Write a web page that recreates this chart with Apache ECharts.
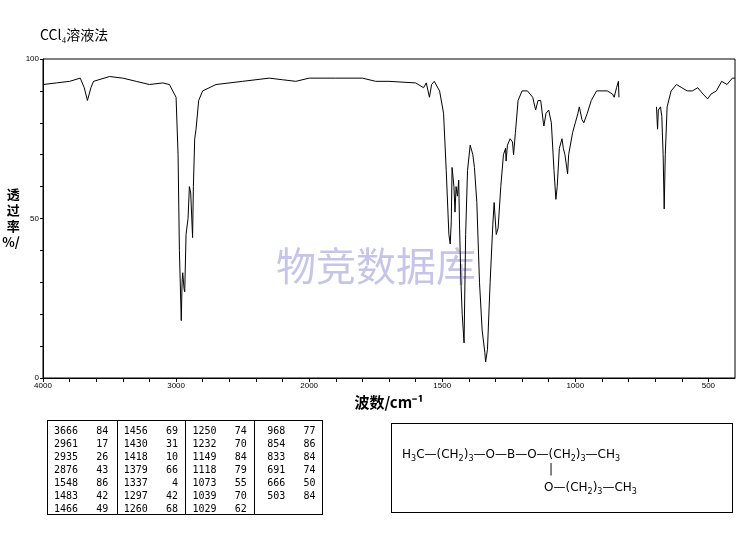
<!DOCTYPE html>
<html><head><meta charset="utf-8">
<script src="https://cdn.jsdelivr.net/npm/echarts@6/dist/echarts.min.js"></script>
<style>
body{margin:0;background:#fff;font-family:"DejaVu Sans Mono",monospace;}
#c{position:absolute;left:0;top:0;width:748px;height:539px;}
.t{position:absolute;font-size:11px;color:#000;}
#tbl{position:absolute;left:47px;top:420px;width:276px;height:95px;border:1px solid #000;box-sizing:border-box;display:flex;}
#tbl div.col{border-right:1px solid #000;padding:3px 0 0 0;font-size:10px;line-height:13px;white-space:pre;font-family:"DejaVu Sans Mono",monospace;}
#tbl div.col:last-child{border-right:none}
#mol{position:absolute;left:391px;top:423px;width:342px;height:90px;border:1px solid #000;box-sizing:border-box;font-size:12px;font-family:"DejaVu Sans",sans-serif;}
</style></head><body>
<div id="c"></div>
<div class="t" style="left:40px;top:24px;font-size:14px;font-family:'Noto Sans CJK SC';">CCl₄溶液法</div>
<div id="tbl"></div>
<div id="mol">
 <div class="t" style="left:10px;top:23px;font-size:12px">H<sub style="font-size:8px">3</sub>C—(CH<sub style="font-size:8px">2</sub>)<sub style="font-size:8px">3</sub>—O—B—O—(CH<sub style="font-size:8px">2</sub>)<sub style="font-size:8px">3</sub>—CH<sub style="font-size:8px">3</sub></div>
 <div class="t" style="left:157px;top:38px;font-size:12px">|</div>
 <div class="t" style="left:152px;top:56px;font-size:12px">O—(CH<sub style="font-size:8px">2</sub>)<sub style="font-size:8px">3</sub>—CH<sub style="font-size:8px">3</sub></div>
</div>
<script>
const peakWn=[3666,2961,2935,2876,1548,1483,1466,1456,1430,1418,1379,1337,1297,1260,1250,1232,1149,1118,1073,1039,1029,968,854,833,691,666,503];
const peakT=[84,17,26,43,86,42,49,69,31,10,66,4,42,68,74,70,84,79,55,70,62,77,86,84,74,50,84];
const wn=[4000,3900,3800,3720,3690,3666,3640,3620,3500,3400,3300,3200,3100,3050,3000,2985,2975,2961,2955,2950,2940,2935,2925,2910,2900,2890,2876,2870,2860,2850,2830,2800,2700,2500,2300,2200,2100,2000,1900,1800,1750,1700,1600,1570,1560,1548,1540,1530,1510,1495,1485,1475,1470,1466,1463,1456,1452,1448,1443,1438,1435,1430,1425,1418,1412,1405,1395,1385,1379,1370,1360,1350,1340,1337,1330,1320,1310,1305,1297,1290,1280,1270,1262,1260,1255,1245,1236,1232,1225,1215,1200,1180,1160,1149,1140,1130,1120,1118,1110,1100,1090,1080,1073,1068,1060,1050,1045,1039,1029,1025,1010,1000,990,985,975,968,955,940,920,880,860,854,845,838,836,820,700,695,691,688,680,675,670,666,662,655,640,620,600,580,560,540,520,503,490,470,450,430,410,400];
const tr=[92,92.5,93,94,91,87,91,93,94.5,94,93,92,92.5,92,88,70,40,18,30,33,28,27,45,50,60,58,44,60,75,78,87,90,92,93,94,93.5,93,94,94,94,93,93,92.5,91,92.5,88,92,93,90,83,65,45,42,49,66,60,52,60,57,62,48,31,20,11,45,65,73,70,66,55,30,15,8,5,9,30,48,55,45,47,60,70,72,68,73,75,74,70,77,87,90,90,88,84,87,87,80,79,83,84,80,65,56,60,72,75,72,70,64,70,77,80,83,85,81,80,83,87,90,90,89,88,91,93,88,null,null,85,78,84,85,82,70,53,70,85,90,92,91,90,90,91,89,87.5,89,90,93,92,94,94];
const xTicks=[4000,3000,2000,1500,1000,500];
function u(x){return x>2000?2000+(x-2000)/2:x;}
function inv(v){return v>2000?2000+(v-2000)*2:v;}
const data=wn.map((x,i)=>[u(x),tr[i]]);
const tbl=document.getElementById('tbl');
const widths=[70,69,69,68];
for(let c=0;c<4;c++){
  const d=document.createElement('div');d.className='col';d.style.width=widths[c]+'px';
  let s='';
  for(let r=0;r<7;r++){const k=c*7+r;if(k<peakWn.length){s+=' '+String(peakWn[k]).padStart(4,' ')+'  '+String(peakT[k]).padStart(3,' ')+'\n';}}
  d.textContent=s;tbl.appendChild(d);
}
const ch=echarts.init(document.getElementById('c'));
ch.setOption({
 animation:false,
 grid:{left:43,right:13,top:59,bottom:161,show:true,borderColor:'#000',borderWidth:1,containLabel:false,outerBoundsMode:'none'},
 graphic:[{type:'text',left:276,top:246,style:{text:'物竞数据库',fill:'rgba(150,150,220,0.55)',font:'40px "Noto Sans CJK SC"'}}],
 xAxis:{type:'value',inverse:true,min:400,max:3000,interval:100,
  name:'波数/cm⁻¹',nameLocation:'middle',nameGap:17,nameTextStyle:{fontSize:15,fontWeight:'bold',color:'#000',fontFamily:'Noto Sans CJK SC'},
  axisLine:{onZero:false,lineStyle:{color:'#000'}},axisTick:{length:4,lineStyle:{color:'#000'}},splitLine:{show:false},
  axisLabel:{fontSize:8,color:'#000',margin:4,formatter:v=>{const x=inv(v);return xTicks.includes(x)?String(x):'';},showMinLabel:false}},
 yAxis:{type:'value',min:0,max:100,interval:10,
  name:'透\n过\n率\n%/',nameLocation:'middle',nameRotate:0,nameGap:14,
  nameTextStyle:{fontSize:13,fontWeight:'bold',color:'#000',lineHeight:16,fontFamily:'Noto Sans CJK SC'},
  axisLine:{show:true,lineStyle:{color:'#000'}},axisTick:{length:3,lineStyle:{color:'#000'}},splitLine:{show:false},
  axisLabel:{fontSize:8,color:'#000',margin:4,formatter:v=>(v%50===0?String(v):'')}},
 series:[{type:'line',data:data,showSymbol:false,connectNulls:false,lineStyle:{color:'#000',width:1}}]
});
</script></body></html>
